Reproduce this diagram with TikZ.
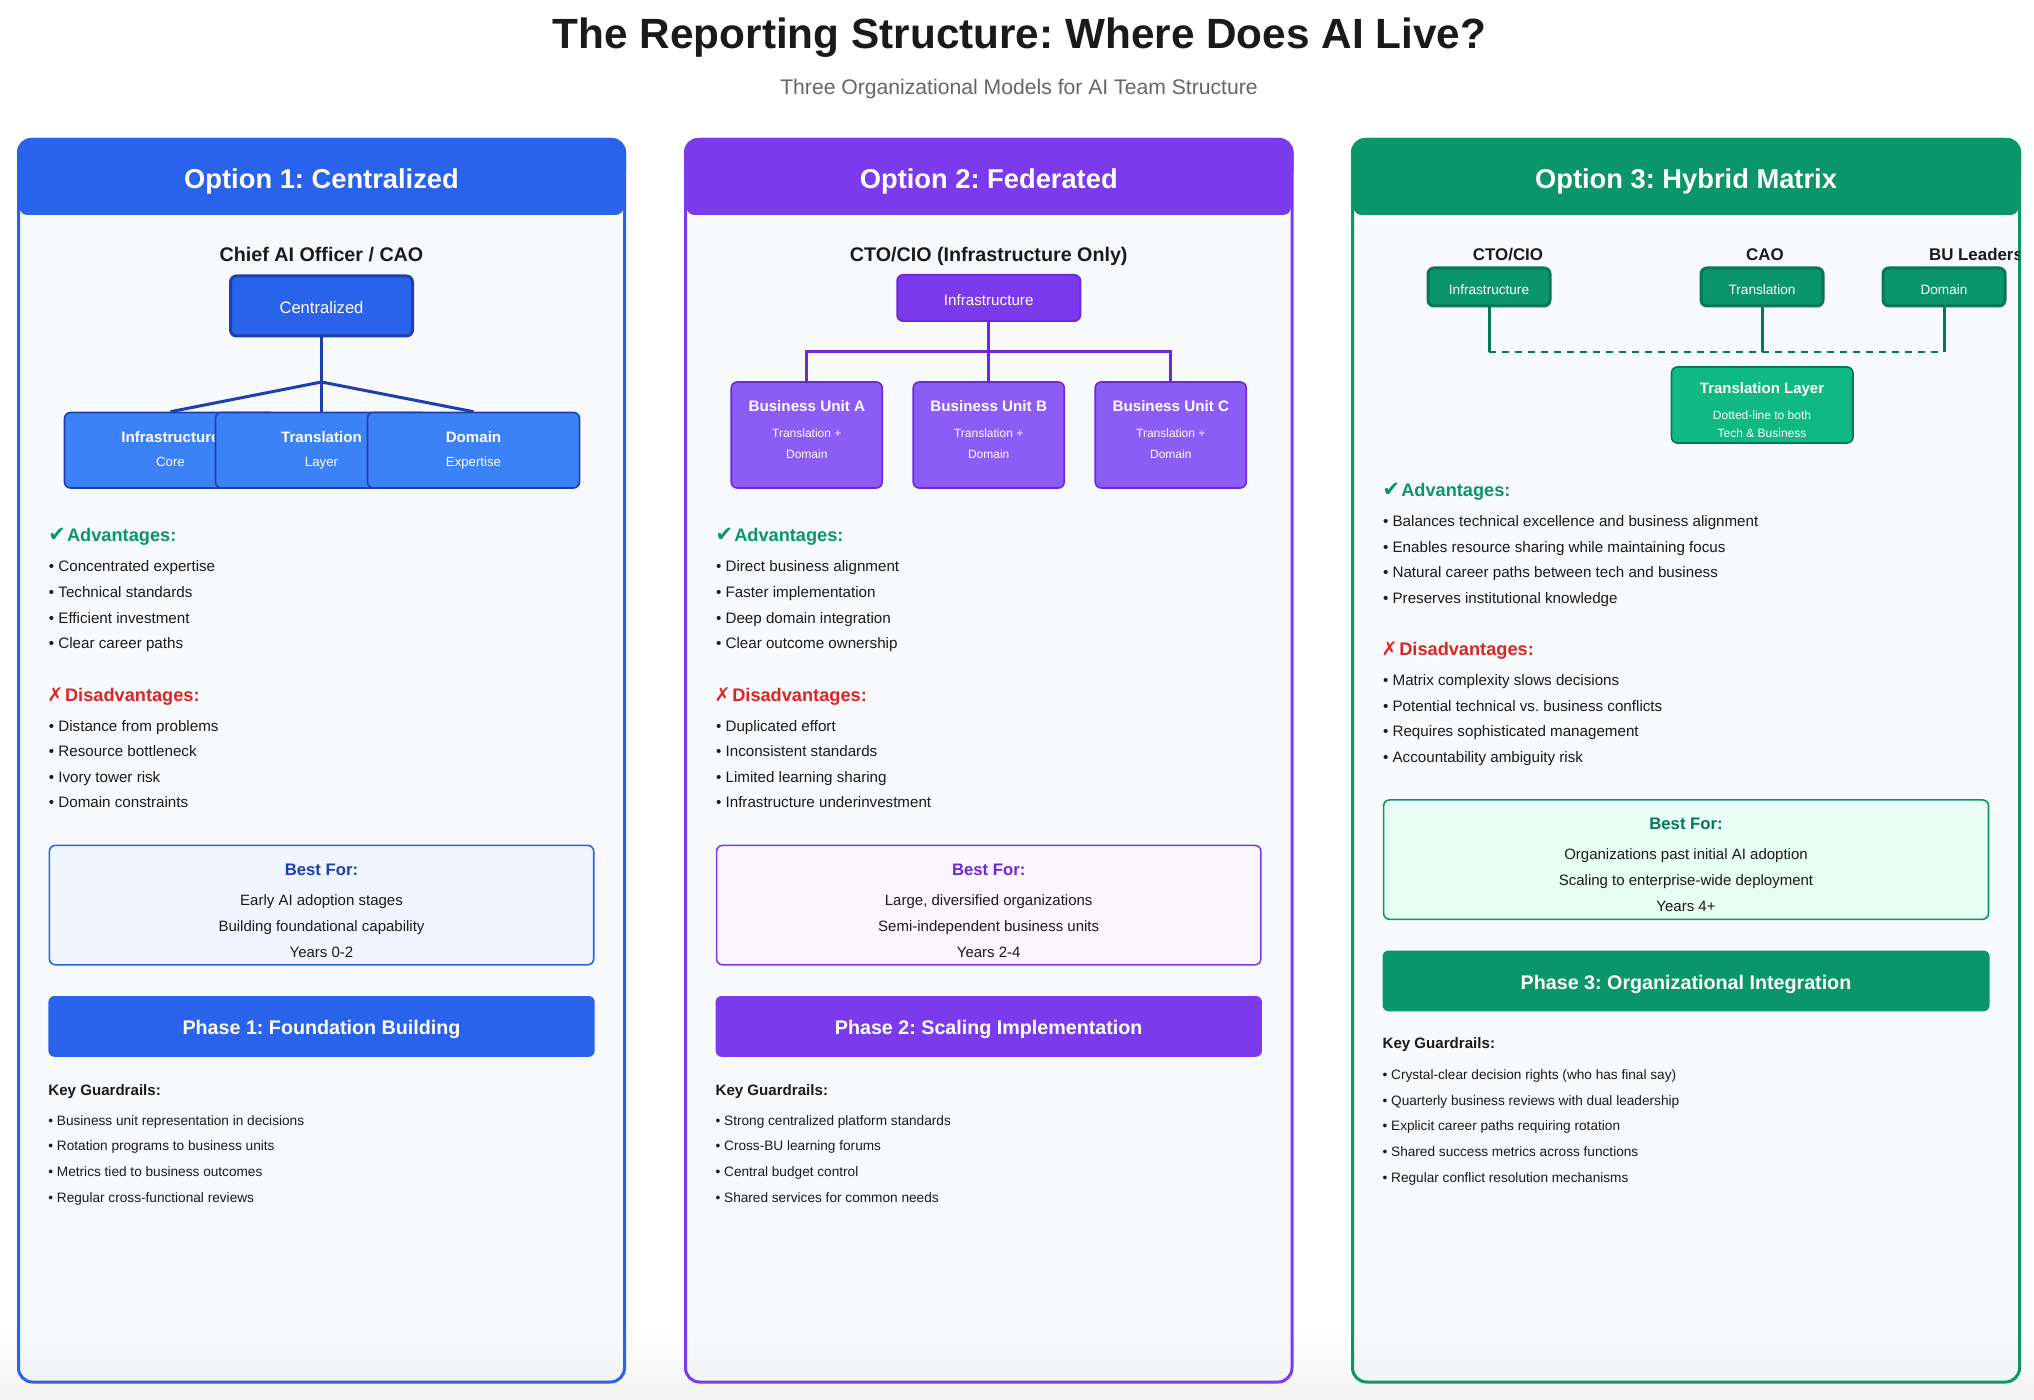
\documentclass[tikz,border=0pt]{standalone}
\usepackage{fontspec}
\setmainfont{Liberation Sans}
\newfontfamily\symfont{DejaVu Sans}
\definecolor{ink}{HTML}{1A1A1A}
\definecolor{subink}{HTML}{666666}
\definecolor{cardbg}{HTML}{F8F9FB}
\definecolor{cardend}{HTML}{F2F3F5}
\definecolor{blueA}{HTML}{2A63EB}
\definecolor{blueB}{HTML}{3B82F6}
\definecolor{blueD}{HTML}{1E40AF}
\definecolor{blueF}{HTML}{EFF6FF}
\definecolor{purA}{HTML}{7C3AED}
\definecolor{purB}{HTML}{8B5CF6}
\definecolor{purD}{HTML}{6D28D9}
\definecolor{purF}{HTML}{FAF5FF}
\definecolor{grnA}{HTML}{0A9669}
\definecolor{grnB}{HTML}{10B981}
\definecolor{grnD}{HTML}{047857}
\definecolor{grnF}{HTML}{E8FDF3}
\definecolor{good}{HTML}{0A9669}
\definecolor{bad}{HTML}{DC2626}
\newcommand\fs[1]{\fontsize{#1}{#1}\selectfont}
\tikzset{
  x=0.5pt,y=-0.5pt,
  txt/.style={inner sep=0pt,outer sep=0pt,anchor=base,text=ink},
  txtl/.style={inner sep=0pt,outer sep=0pt,anchor=base west,text=ink},
  wtxt/.style={inner sep=0pt,outer sep=0pt,anchor=base,text=white},
  orgbox/.style={rounded corners=3pt,inner sep=0pt},
  conn/.style={line width=1.5pt},
}
% \boxat{name}{options}{x0}{y0}{x1}{y1}
\newcommand\boxat[6]{\node[orgbox,#2,minimum width={((#5)-(#3))*0.5pt},minimum height={((#6)-(#4))*0.5pt}] (#1) at ({((#3)+(#5))/2},{((#4)+(#6))/2}) {};}
% \card{prefix}{x0}{x1}{colour}{title}
\newcommand\card[5]{%
  \begin{scope}
    \clip[rounded corners=7pt] ({#2+1.5},139.5) rectangle ({#3-1.5},1382);
    \fill[cardbg] (#2,138) rectangle (#3,1384);
    \shade[top color=cardbg,bottom color=cardend] (#2,1330) rectangle (#3,1384);
  \end{scope}
  \draw[#4,line width=1.5pt,rounded corners=7pt] ({#2+1.5},139.5) rectangle ({#3-1.5},1382);
  \fill[#4,rounded corners=7pt] (#2,138) rectangle (#3,185);
  \fill[#4,rounded corners=4pt] ({#2+2.5},160) rectangle ({#3-2.5},215);
  \node[wtxt,font=\bfseries\fs{13.65}] (#1-head) at ({(#2+#3)/2},189) {#5};
}
% column content: uses \colL \colC \colR \colD \pfx and colours acc, accD, accF
\newcommand\colbody[6]{%
  \node[txtl,text=good,font=\bfseries\fs{9.1}] (\pfx-advh) at (\colL,\colD+541.7) {\makebox[9.35pt][l]{\symfont\fs{10.5}✔}Advantages:};
  \foreach \t [count=\i from 0] in {#1}{
    \node[txtl,font=\fs{7.58}] (\pfx-adv\i) at (\colL+0.5,\colD+572+\i*25.55) {• \t};}
  \node[txtl,text=bad,font=\bfseries\fs{9.1}] (\pfx-dish) at (\colL-1,\colD+701.5) {\makebox[8.85pt][l]{\symfont\bfseries\fs{9.5}✗}Disadvantages:};
  \foreach \t [count=\i from 0] in {#2}{
    \node[txtl,font=\fs{7.58}] (\pfx-dis\i) at (\colL+0.5,\colD+731.3+\i*25.55) {• \t};}
  \boxat{\pfx-best}{draw=acc,line width=0.8pt,fill=accF}{\colL+1}{\colD+845.4}{\colR-1}{\colD+964.8}
  \node[txt,text=accD,font=\bfseries\fs{8.35}] (\pfx-besth) at (\colC,\colD+875.3) {Best For:};
  \foreach \t [count=\i from 0] in {#3}{
    \node[txt,font=\fs{7.5}] (\pfx-best\i) at (\colC,\colD+905.2+\i*26) {\t};}
  \boxat{\pfx-phase}{fill=acc}{\colL}{\colD+996}{\colR}{\colD+1056.8}
  \node[wtxt,font=\bfseries\fs{9.85}] (\pfx-phaset) at (\colC,\colD+1034.6) {#4};
  \node[txtl,font=\bfseries\fs{7.55}] (\pfx-keyh) at (\colL,\colD+1095.6+#6) {Key Guardrails:};
  \foreach \t [count=\i from 0] in {#5}{
    \node[txtl,font=\fs{6.82}] (\pfx-key\i) at (\colL,\colD+1125+\i*25.7) {• \t};}
}
\begin{document}
\frenchspacing
\begin{tikzpicture}
\useasboundingbox (0,0) rectangle (2034,1400);
\fill[white] (0,0) rectangle (2034,1400);
\shade[top color=white,bottom color=black!5] (0,1330) rectangle (2034,1400);

\node[txt,font=\bfseries\fs{21.15}] (title) at (1019.5,49) {The Reporting Structure: Where Does AI Live?};
\node[txt,text=subink,font=\fs{10.58}] (subtitle) at (1019,95) {Three Organizational Models for AI Team Structure};

% ---------- Column 1
\card{c1}{17}{626}{blueA}{Option 1: Centralized}
\node[txt,font=\bfseries\fs{9.85}] (c1-lead) at (321.5,262) {Chief AI Officer / CAO};
\boxat{c1-top}{draw=blueD,line width=1.5pt,fill=blueA}{230.5}{276}{412.5}{336}
\node[wtxt,font=\fs{8.3}] (c1-topt) at (321.5,314) {Centralized};
\coordinate (c1-j) at (321.5,382);
\boxat{c1-a}{draw=blueD,line width=0.8pt,fill=blueB}{64.5}{412.5}{276.5}{488}
\node[wtxt,font=\bfseries\fs{7.55}] (c1-at) at (170.5,443) {Infrastructure};
\node[wtxt,font=\fs{6.6}] (c1-as) at (170.5,467) {Core};
\boxat{c1-b}{draw=blueD,line width=0.8pt,fill=blueB}{215.5}{412.5}{427.5}{488}
\node[wtxt,font=\bfseries\fs{7.55}] (c1-bt) at (321.5,443) {Translation};
\node[wtxt,font=\fs{6.6}] (c1-bs) at (321.5,467) {Layer};
\boxat{c1-c}{draw=blueD,line width=0.8pt,fill=blueB}{367.5}{412.5}{579.5}{488}
\node[wtxt,font=\bfseries\fs{7.55}] (c1-ct) at (473.5,443) {Domain};
\node[wtxt,font=\fs{6.6}] (c1-cs) at (473.5,467) {Expertise};
\draw[blueD,conn] (c1-top.south) -- (c1-j) -- (c1-b.north);
\draw[blueD,conn] (c1-a.north) -- (c1-j) -- (c1-c.north);

\colorlet{acc}{blueA}\colorlet{accD}{blueD}\colorlet{accF}{blueF}
\def\pfx{c1}\def\colL{48.4}\def\colC{321.5}\def\colR{594.7}\def\colD{0}
\colbody{Concentrated expertise,Technical standards,Efficient investment,Clear career paths}
{Distance from problems,Resource bottleneck,Ivory tower risk,Domain constraints}
{Early AI adoption stages,Building foundational capability,Years 0-2}
{Phase 1: Foundation Building}
{Business unit representation in decisions,Rotation programs to business units,Metrics tied to business outcomes,Regular cross-functional reviews}{0}

% ---------- Column 2
\card{c2}{684}{1293.5}{purA}{Option 2: Federated}
\node[txt,font=\bfseries\fs{9.85}] (c2-lead) at (988.7,262) {CTO/CIO (Infrastructure Only)};
\boxat{c2-top}{draw=purD,line width=1pt,fill=purA}{897.25}{275}{1080.25}{321}
\node[wtxt,font=\fs{7.6}] (c2-topt) at (988.7,306) {Infrastructure};
\boxat{c2-a}{draw=purD,line width=0.8pt,fill=purB}{731.25}{382}{882.25}{488}
\node[wtxt,font=\bfseries\fs{7.6}] (c2-at) at (806.8,412) {Business Unit A};
\node[wtxt,font=\fs{6}] (c2-as) at (806.8,438) {Translation +};
\node[wtxt,font=\fs{6}] (c2-as2) at (806.8,459) {Domain};
\boxat{c2-b}{draw=purD,line width=0.8pt,fill=purB}{913.25}{382}{1064.25}{488}
\node[wtxt,font=\bfseries\fs{7.6}] (c2-bt) at (988.7,412) {Business Unit B};
\node[wtxt,font=\fs{6}] (c2-bs) at (988.7,438) {Translation +};
\node[wtxt,font=\fs{6}] (c2-bs2) at (988.7,459) {Domain};
\boxat{c2-c}{draw=purD,line width=0.8pt,fill=purB}{1095.25}{382}{1246.25}{488}
\node[wtxt,font=\bfseries\fs{7.6}] (c2-ct) at (1170.8,412) {Business Unit C};
\node[wtxt,font=\fs{6}] (c2-cs) at (1170.8,438) {Translation +};
\node[wtxt,font=\fs{6}] (c2-cs2) at (1170.8,459) {Domain};
\coordinate (c2-ja) at (806.75,351.7);
\coordinate (c2-jb) at (988.75,351.7);
\coordinate (c2-jc) at (1170.75,351.7);
\draw[purD,conn] (c2-top.south) -- (c2-jb) -- (c2-b.north);
\draw[purD,conn] (c2-a.north) -- (c2-ja) -- (c2-jc) -- (c2-c.north);

\colorlet{acc}{purA}\colorlet{accD}{purD}\colorlet{accF}{purF}
\def\pfx{c2}\def\colL{715.6}\def\colC{988.7}\def\colR{1261.9}\def\colD{0}
\colbody{Direct business alignment,Faster implementation,Deep domain integration,Clear outcome ownership}
{Duplicated effort,Inconsistent standards,Limited learning sharing,Infrastructure underinvestment}
{{Large, diversified organizations},Semi-independent business units,Years 2-4}
{Phase 2: Scaling Implementation}
{Strong centralized platform standards,Cross-BU learning forums,Central budget control,Shared services for common needs}{0}

% ---------- Column 3
\card{c3}{1351}{2021}{grnA}{Option 3: Hybrid Matrix}
\node[txt,font=\bfseries\fs{8.45}] (c3-l1) at (1508,260.7) {CTO/CIO};
\node[txt,font=\bfseries\fs{8.45}] (c3-l2) at (1765,260.7) {CAO};
\begin{scope}
  \clip (1900,230) rectangle (2019.5,280);
  \node[txt,font=\bfseries\fs{8.45}] (c3-l3) at (1976,260.7) {BU Leaders};
\end{scope}
\boxat{c3-a}{draw=grnD,line width=1.5pt,fill=grnA}{1428}{268}{1550}{306}
\node[wtxt,font=\fs{6.8}] (c3-at) at (1489,295) {Infrastructure};
\boxat{c3-b}{draw=grnD,line width=1.5pt,fill=grnA}{1701}{268}{1823}{306}
\node[wtxt,font=\fs{6.8}] (c3-bt) at (1762,295) {Translation};
\boxat{c3-c}{draw=grnD,line width=1.5pt,fill=grnA}{1883}{268}{2005}{306}
\node[wtxt,font=\fs{6.8}] (c3-ct) at (1944,295) {Domain};
\coordinate (c3-ja) at (1489,351.7);
\coordinate (c3-jb) at (1762,351.7);
\coordinate (c3-jc) at (1944,351.7);
\draw[grnD,conn] (c3-a.south) -- (c3-ja);
\draw[grnD,conn] (c3-b.south) -- (c3-jb);
\draw[grnD,conn] (c3-c.south) -- (c3-jc);
\draw[grnD,line width=1pt,dash pattern=on 3.25pt off 3.25pt] (c3-ja) -- (c3-jc);
\boxat{c3-t}{draw=grnD,line width=0.8pt,fill=grnB}{1671.5}{367}{1853}{443}
\node[wtxt,font=\bfseries\fs{7.5}] (c3-tt) at (1762,393.3) {Translation Layer};
\node[wtxt,font=\fs{6}] (c3-ts) at (1762,420) {Dotted-line to both};
\node[wtxt,font=\fs{6}] (c3-ts2) at (1762,437.7) {Tech \& Business};

\colorlet{acc}{grnA}\colorlet{accD}{grnD}\colorlet{accF}{grnF}
\def\pfx{c3}\def\colL{1382.6}\def\colC{1686}\def\colR{1989.5}\def\colD{-45.5}
\colbody{Balances technical excellence and business alignment,Enables resource sharing while maintaining focus,Natural career paths between tech and business,Preserves institutional knowledge}
{Matrix complexity slows decisions,Potential technical vs. business conflicts,Requires sophisticated management,Accountability ambiguity risk}
{Organizations past initial AI adoption,Scaling to enterprise-wide deployment,Years 4+}
{Phase 3: Organizational Integration}
{Crystal-clear decision rights (who has final say),Quarterly business reviews with dual leadership,Explicit career paths requiring rotation,Shared success metrics across functions,Regular conflict resolution mechanisms}{-1.2}
\end{tikzpicture}
\end{document}
